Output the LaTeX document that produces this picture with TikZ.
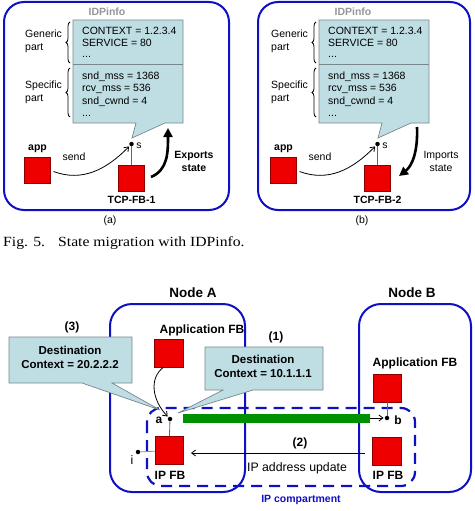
\documentclass[tikz,border=0pt]{standalone}
\usepackage{fontspec}
\usepackage{graphicx}
\setmainfont{Liberation Sans}
\newfontfamily\capserif{Liberation Serif}
\usetikzlibrary{arrows.meta,decorations.pathreplacing}
\definecolor{frameblue}{RGB}{15,15,195}
\definecolor{cfill}{RGB}{190,222,228}
\definecolor{cdraw}{RGB}{120,135,140}
\definecolor{fbred}{RGB}{238,0,0}
\definecolor{fbdark}{RGB}{140,0,0}
\definecolor{bargreen}{RGB}{0,145,0}
\definecolor{idpgray}{RGB}{150,150,150}
\tikzset{
  nodeframe/.style={draw=frameblue, line width=2pt, rounded corners=20pt},
  compart/.style={draw=frameblue, line width=2.2pt, rounded corners=14pt, dash pattern=on 11pt off 7pt},
  calloutbox/.style={fill=cfill, draw=cdraw, line width=0.7pt, line join=miter},
  fbsq/.style={draw=fbdark, fill=fbred, line width=0.5pt, minimum width=26pt, minimum height=26pt, inner sep=0pt},
  blackdot/.style={circle, fill=black, inner sep=0pt, minimum size=4.5pt},
  stem/.style={draw=black!60, line width=0.8pt},
  thinarr/.style={draw=black, line width=0.8pt, -{Straight Barb[length=4pt,width=6pt]}},
  bigarr/.style={draw=black, line width=2.6pt, -{Triangle[length=9pt,width=9pt]}},
  smalltxt/.style={font=\fontsize{10.5}{13}\selectfont, inner sep=0pt},
  smallbold/.style={font=\bfseries\fontsize{10.5}{13}\selectfont, inner sep=0pt},
  midtxt/.style={font=\fontsize{12.3}{14}\selectfont, inner sep=0pt},
  midbold/.style={font=\bfseries\fontsize{12}{13.5}\selectfont, inner sep=0pt},
  bracestyle/.style={draw=black, line width=0.8pt, decorate, decoration={brace, amplitude=4pt}},
}
\begin{document}
\begin{tikzpicture}[x=1pt,y=-1pt]
\useasboundingbox (0,0) rectangle (474,511);
% ---------------- top panels ----------------
\draw[nodeframe] (4,2) rectangle (229,210);
\draw[nodeframe] (258,2) rectangle (470,210);
\foreach \p/\dx/\n in {a/0/1,b/246/2}{
  \begin{scope}[xshift=\dx pt]
    \node[smallbold, text=idpgray] (idp\p) at (107,12) {IDPinfo};
    \filldraw[calloutbox] (73,20) -- (183,20) -- (183,123) -- (165,123) -- (132,138) -- (136,123) -- (73,123) -- cycle;
    \draw[draw=cdraw, line width=0.7pt] (73,64) -- (183,64);
    \node[smalltxt, anchor=base west] (t1\p) at (82,34.5) {CONTEXT = 1.2.3.4};
    \node[smalltxt, anchor=base west] (t2\p) at (82,46.5) {SERVICE = 80};
    \node[smalltxt, anchor=base west] (t3\p) at (82,58) {...};
    \node[smalltxt, anchor=base west] (t4\p) at (82,79) {snd\_mss = 1368};
    \node[smalltxt, anchor=base west] (t5\p) at (82,91) {rcv\_mss = 536};
    \node[smalltxt, anchor=base west] (t6\p) at (82,104) {snd\_cwnd = 4};
    \node[smalltxt, anchor=base west] (t7\p) at (82,116) {...};
    \draw[bracestyle] (70,63) -- (70,22);
    \draw[bracestyle] (70,117) -- (70,68);
    \node[smalltxt, anchor=west, align=left] (gen\p) at (25,41.5) {Generic\\part};
    \node[smalltxt, anchor=west, align=left] (spec\p) at (25,92) {Specific\\part};
    \node[fbsq] (app\p) at (37.5,170.5) {};
    \node[smallbold] (applbl\p) at (37.5,149) {app};
    \node[fbsq] (tcp\p) at (131.5,178.5) {};
    \node[smallbold] (tcplbl\p) at (131.5,200) {TCP-FB-\n};
    \node[blackdot] (s\p) at (131.5,144) {};
    \node[smalltxt] (slbl\p) at (139,146) {s};
    \draw[stem] (s\p) -- (tcp\p);
    \node[smalltxt] (sendlbl\p) at (74,157) {send};
    \draw[thinarr, shorten <=3pt, shorten >=1pt] (app\p.east) .. controls (82,182) and (106,170) .. (s\p);
  \end{scope}
}
\node[smalltxt] (capa) at (110,221) {(a)};
\node[smalltxt] (capb) at (362,221) {(b)};
\coordinate (exs) at (151,177);
\coordinate (exe) at (168,128);
\draw[bigarr] (exs) .. controls (168,170) and (168,152) .. (exe);
\node[smallbold, align=center] (explbl) at (194,161.5) {Exports\\state};
\coordinate (ims) at (417,127);
\coordinate (ime) at (399,176);
\draw[bigarr] (ims) .. controls (418,152) and (412,166) .. (ime);
\node[smalltxt, align=center] (implbl) at (441,161.5) {Imports\\state};
% ---------------- caption ----------------
\node[anchor=west, inner sep=0pt, font=\capserif\fontsize{14}{16}\selectfont] (fig) at (3,243) {\scalebox{1.12}[1]{Fig. 5.}};
\node[anchor=west, inner sep=0pt, font=\capserif\fontsize{14}{16}\selectfont] (figtxt) at (58,243) {\scalebox{1.12}[1]{State migration with IDPinfo.}};
% ---------------- bottom ----------------
\node[font=\bfseries\fontsize{13.5}{15}\selectfont, inner sep=0pt] (nA) at (193,293) {Node A};
\node[font=\bfseries\fontsize{13.5}{15}\selectfont, inner sep=0pt] (nB) at (412,293) {Node B};
\draw[nodeframe, rounded corners=22pt] (110,304) rectangle (245,492);
\draw[nodeframe, rounded corners=22pt] (359,304) rectangle (471,492);
\draw[compart] (147,408) rectangle (415,486);
\node[font=\bfseries\fontsize{10.5}{12}\selectfont, text=frameblue, inner sep=0pt] (ipc) at (301,500) {IP compartment};
% callouts
\filldraw[calloutbox] (9,337) -- (132,337) -- (132,383) -- (112,383) -- (160,410) -- (82,383) -- (9,383) -- cycle;
\node[font=\bfseries\fontsize{11.5}{13.5}\selectfont, align=center, inner sep=0pt] (c3) at (70,357.5) {Destination\\Context = 20.2.2.2};
\node[midbold] (n3) at (72,327) {(3)};
\filldraw[calloutbox] (205,347) -- (323,347) -- (323,390) -- (253,390) -- (178,413) -- (223,390) -- (205,390) -- cycle;
\node[font=\bfseries\fontsize{11.5}{13.5}\selectfont, align=center, inner sep=0pt] (c1) at (263,366.5) {Destination\\Context = 10.1.1.1};
\node[midbold] (n1) at (276,337) {(1)};
% FBs
\node[fbsq, minimum width=29pt, minimum height=28pt] (appA) at (168.5,353) {};
\node[midbold] (appAl) at (202,330) {Application FB};
\node[fbsq, minimum width=28pt, minimum height=28pt] (appB) at (387,388) {};
\node[midbold] (appBl) at (415,363) {Application FB};
\node[fbsq, minimum width=28pt, minimum height=28pt] (ipA) at (169,450.5) {};
\node[midbold] (ipAl) at (170,475) {IP FB};
\node[fbsq, minimum width=29pt, minimum height=28pt] (ipB) at (386.5,451) {};
\node[midbold] (ipBl) at (388,475) {IP FB};
% dots
\node[blackdot] (da) at (170,419) {};
\node[midbold] (dal) at (159,420) {a};
\node[blackdot] (db) at (387,418) {};
\node[midbold] (dbl) at (398,420) {b};
\node[blackdot] (di) at (138,452) {};
\node[midtxt] (dil) at (132,460) {i};
\draw[stem] (da) -- (ipA);
\draw[stem] (appB) -- (db);
\draw[draw=black!45, line width=0.8pt] (di) -- (ipA);
% green bar
\coordinate (g0) at (183,418);
\coordinate (g1) at (370,418);
\draw[bargreen, line width=9pt] (g0) -- (g1);
\draw[thinarr, shorten >=1pt] (g1) -- (db);
\draw[thinarr, shorten >=1pt] ([xshift=-5pt]appA.south) .. controls (149,378) and (152,400) .. (da);
% IP update arrow
\coordinate (u1) at (365,453);
\coordinate (u0) at (191,453);
\draw[thinarr] (u1) -- (u0);
\node[midbold] (n2) at (300,443) {(2)};
\node[midtxt] (updl) at (297,468) {IP address update};
\end{tikzpicture}
\end{document}
